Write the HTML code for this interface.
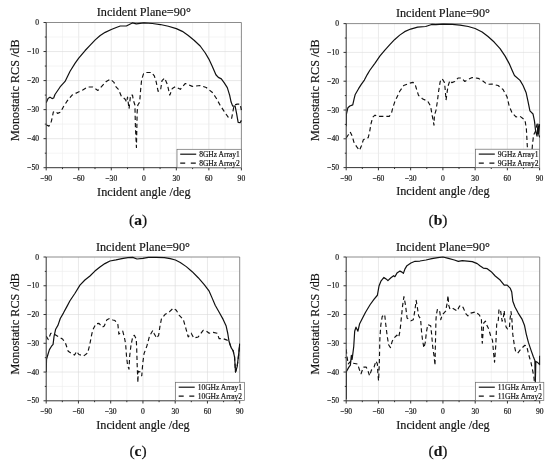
<!DOCTYPE html>
<html lang="en"><head><meta charset="utf-8"><title>Monostatic RCS</title>
<style>html,body{margin:0;padding:0;background:#fff}body{width:550px;height:464px;overflow:hidden}</style>
</head><body>
<svg width="550" height="464" viewBox="0 0 550 464" style="display:block">
<rect width="550" height="464" fill="#fff"/>
<g font-family="'Liberation Serif', 'Times New Roman', serif" fill="#141414" stroke="#141414" stroke-width="0.18">
<g id="plot-a">
<line x1="62.47" y1="22.5" x2="62.47" y2="167.7" stroke="#ececec" stroke-width="0.6"/><line x1="78.73" y1="22.5" x2="78.73" y2="167.7" stroke="#dadada" stroke-width="0.6"/><line x1="95.00" y1="22.5" x2="95.00" y2="167.7" stroke="#ececec" stroke-width="0.6"/><line x1="111.27" y1="22.5" x2="111.27" y2="167.7" stroke="#dadada" stroke-width="0.6"/><line x1="127.53" y1="22.5" x2="127.53" y2="167.7" stroke="#ececec" stroke-width="0.6"/><line x1="143.80" y1="22.5" x2="143.80" y2="167.7" stroke="#dadada" stroke-width="0.6"/><line x1="160.07" y1="22.5" x2="160.07" y2="167.7" stroke="#ececec" stroke-width="0.6"/><line x1="176.33" y1="22.5" x2="176.33" y2="167.7" stroke="#dadada" stroke-width="0.6"/><line x1="192.60" y1="22.5" x2="192.60" y2="167.7" stroke="#ececec" stroke-width="0.6"/><line x1="208.87" y1="22.5" x2="208.87" y2="167.7" stroke="#dadada" stroke-width="0.6"/><line x1="225.13" y1="22.5" x2="225.13" y2="167.7" stroke="#ececec" stroke-width="0.6"/><line x1="46.2" y1="153.18" x2="241.4" y2="153.18" stroke="#ececec" stroke-width="0.6"/><line x1="46.2" y1="138.66" x2="241.4" y2="138.66" stroke="#dadada" stroke-width="0.6"/><line x1="46.2" y1="124.14" x2="241.4" y2="124.14" stroke="#ececec" stroke-width="0.6"/><line x1="46.2" y1="109.62" x2="241.4" y2="109.62" stroke="#dadada" stroke-width="0.6"/><line x1="46.2" y1="95.10" x2="241.4" y2="95.10" stroke="#ececec" stroke-width="0.6"/><line x1="46.2" y1="80.58" x2="241.4" y2="80.58" stroke="#dadada" stroke-width="0.6"/><line x1="46.2" y1="66.06" x2="241.4" y2="66.06" stroke="#ececec" stroke-width="0.6"/><line x1="46.2" y1="51.54" x2="241.4" y2="51.54" stroke="#dadada" stroke-width="0.6"/><line x1="46.2" y1="37.02" x2="241.4" y2="37.02" stroke="#ececec" stroke-width="0.6"/>
<path d="M46.2 22.5H241.4V167.7" fill="none" stroke="#6e6e6e" stroke-width="0.8"/>
<clipPath id="clip-a"><rect x="46.2" y="21.5" width="195.80" height="146.20"/></clipPath>
<polyline clip-path="url(#clip-a)" points="46.20,124.72 48.91,126.17 51.41,121.24 53.36,111.94 55.63,111.36 57.59,113.40 60.51,112.23 63.44,106.72 67.24,100.91 72.12,95.10 77.43,92.49 82.42,90.16 87.95,86.97 92.94,86.97 97.93,90.45 101.94,86.10 106.28,81.45 110.18,79.13 113.98,82.32 115.60,86.39 118.42,89.29 121.35,96.26 125.15,99.17 126.67,102.07 127.53,97.13 129.05,108.75 130.57,95.10 132.52,95.10 133.28,100.04 134.91,104.97 135.45,128.21 136.43,147.37 137.18,111.65 137.84,104.97 139.68,102.07 140.66,89.29 141.63,79.71 143.58,73.61 146.51,72.45 151.39,72.45 154.32,75.93 156.16,81.74 158.11,91.32 160.50,90.45 162.02,80.58 164.62,77.97 167.33,84.36 169.83,95.10 172.32,88.42 175.25,86.68 180.35,89.29 185.33,83.48 192.27,86.39 200.19,85.52 206.26,87.55 212.12,92.20 216.13,98.00 220.14,105.26 224.16,111.36 228.17,117.17 231.64,118.33 233.16,110.20 234.13,105.26 237.06,104.10 240.10,104.10 241.40,110.20" fill="none" stroke="#111" stroke-width="1.15" stroke-dasharray="4.3 3" stroke-linejoin="round"/>
<polyline clip-path="url(#clip-a)" points="46.20,102.65 48.04,98.58 50.00,97.13 52.06,98.58 53.68,98.00 54.98,94.52 60.08,86.97 65.07,81.45 70.06,71.29 75.15,63.16 78.73,58.22 85.13,50.52 90.23,45.15 95.22,39.92 100.21,35.57 105.19,32.37 111.27,29.47 116.26,27.44 120.27,25.98 126.34,25.98 132.30,22.91 136.32,23.95 143.80,22.91 152.37,23.52 160.39,24.53 168.31,26.28 176.33,28.60 182.30,31.36 188.26,35.57 194.34,40.50 200.19,46.02 205.29,52.99 208.87,59.09 212.12,66.06 215.92,74.77 218.30,77.39 221.34,78.84 224.27,82.90 227.30,87.55 229.69,95.39 231.10,102.07 232.72,106.14 235.11,106.14 236.52,113.10 238.15,122.40 240.10,122.69 241.40,120.36" fill="none" stroke="#111" stroke-width="1.2" stroke-linejoin="round"/>
<path d="M46.2 22.5V167.7H241.4M46.20 167.7v2.7M62.47 167.7v1.4M78.73 167.7v2.7M95.00 167.7v1.4M111.27 167.7v2.7M127.53 167.7v1.4M143.80 167.7v2.7M160.07 167.7v1.4M176.33 167.7v2.7M192.60 167.7v1.4M208.87 167.7v2.7M225.13 167.7v1.4M241.40 167.7v2.7M46.2 167.70h-2.7M46.2 153.18h-1.4M46.2 138.66h-2.7M46.2 124.14h-1.4M46.2 109.62h-2.7M46.2 95.10h-1.4M46.2 80.58h-2.7M46.2 66.06h-1.4M46.2 51.54h-2.7M46.2 37.02h-1.4M46.2 22.50h-2.7" fill="none" stroke="#2a2a2a" stroke-width="0.95"/>
<text x="46.20" y="181.00" font-size="7.6" text-anchor="middle">−90</text>
<text x="78.73" y="181.00" font-size="7.6" text-anchor="middle">−60</text>
<text x="111.27" y="181.00" font-size="7.6" text-anchor="middle">−30</text>
<text x="143.80" y="181.00" font-size="7.6" text-anchor="middle">0</text>
<text x="176.33" y="181.00" font-size="7.6" text-anchor="middle">30</text>
<text x="208.87" y="181.00" font-size="7.6" text-anchor="middle">60</text>
<text x="241.40" y="181.00" font-size="7.6" text-anchor="middle">90</text>
<text x="39.00" y="170.30" font-size="7.6" text-anchor="end">−50</text>
<text x="39.00" y="141.26" font-size="7.6" text-anchor="end">−40</text>
<text x="39.00" y="112.22" font-size="7.6" text-anchor="end">−30</text>
<text x="39.00" y="83.18" font-size="7.6" text-anchor="end">−20</text>
<text x="39.00" y="54.14" font-size="7.6" text-anchor="end">−10</text>
<text x="39.00" y="25.10" font-size="7.6" text-anchor="end">0</text>
<rect x="177.0" y="149.3" width="64.40" height="18.40" fill="#fff" stroke="#6a6a6a" stroke-width="0.7"/>
<line x1="180.20" y1="154.20" x2="196.20" y2="154.20" stroke="#111" stroke-width="1.2"/>
<line x1="180.20" y1="163.20" x2="196.20" y2="163.20" stroke="#111" stroke-width="1.2" stroke-dasharray="5 5.6"/>
<text x="199.20" y="156.70" font-size="7.5">8GHz Array1</text>
<text x="199.20" y="165.70" font-size="7.5">8GHz Array2</text>
<text x="143.80" y="16.2" font-size="12.2" text-anchor="middle">Incident Plane=90°</text>
<text x="143.80" y="195.6" font-size="12.2" text-anchor="middle">Incident angle /deg</text>
<text transform="translate(18.60 90.20) rotate(-90)" font-size="12.2" text-anchor="middle">Monostatic RCS /dB</text>
<text x="138" y="224.6" font-size="15.5" text-anchor="middle">(<tspan font-weight="bold">a</tspan>)</text>
</g>
<g id="plot-b">
<line x1="362.32" y1="23.6" x2="362.32" y2="167.6" stroke="#ececec" stroke-width="0.6"/><line x1="378.43" y1="23.6" x2="378.43" y2="167.6" stroke="#dadada" stroke-width="0.6"/><line x1="394.55" y1="23.6" x2="394.55" y2="167.6" stroke="#ececec" stroke-width="0.6"/><line x1="410.67" y1="23.6" x2="410.67" y2="167.6" stroke="#dadada" stroke-width="0.6"/><line x1="426.78" y1="23.6" x2="426.78" y2="167.6" stroke="#ececec" stroke-width="0.6"/><line x1="442.90" y1="23.6" x2="442.90" y2="167.6" stroke="#dadada" stroke-width="0.6"/><line x1="459.02" y1="23.6" x2="459.02" y2="167.6" stroke="#ececec" stroke-width="0.6"/><line x1="475.13" y1="23.6" x2="475.13" y2="167.6" stroke="#dadada" stroke-width="0.6"/><line x1="491.25" y1="23.6" x2="491.25" y2="167.6" stroke="#ececec" stroke-width="0.6"/><line x1="507.37" y1="23.6" x2="507.37" y2="167.6" stroke="#dadada" stroke-width="0.6"/><line x1="523.48" y1="23.6" x2="523.48" y2="167.6" stroke="#ececec" stroke-width="0.6"/><line x1="346.2" y1="153.20" x2="539.6" y2="153.20" stroke="#ececec" stroke-width="0.6"/><line x1="346.2" y1="138.80" x2="539.6" y2="138.80" stroke="#dadada" stroke-width="0.6"/><line x1="346.2" y1="124.40" x2="539.6" y2="124.40" stroke="#ececec" stroke-width="0.6"/><line x1="346.2" y1="110.00" x2="539.6" y2="110.00" stroke="#dadada" stroke-width="0.6"/><line x1="346.2" y1="95.60" x2="539.6" y2="95.60" stroke="#ececec" stroke-width="0.6"/><line x1="346.2" y1="81.20" x2="539.6" y2="81.20" stroke="#dadada" stroke-width="0.6"/><line x1="346.2" y1="66.80" x2="539.6" y2="66.80" stroke="#ececec" stroke-width="0.6"/><line x1="346.2" y1="52.40" x2="539.6" y2="52.40" stroke="#dadada" stroke-width="0.6"/><line x1="346.2" y1="38.00" x2="539.6" y2="38.00" stroke="#ececec" stroke-width="0.6"/>
<path d="M346.2 23.6H539.6V167.6" fill="none" stroke="#6e6e6e" stroke-width="0.8"/>
<clipPath id="clip-b"><rect x="346.2" y="22.6" width="194.00" height="145.00"/></clipPath>
<polyline clip-path="url(#clip-b)" points="346.20,137.94 348.35,134.77 350.18,131.89 352.11,135.92 354.04,142.54 356.62,146.58 359.52,150.32 361.46,145.71 363.39,139.66 368.23,137.65 369.62,131.89 371.13,123.25 372.74,117.20 375.00,115.18 377.90,116.34 389.29,116.34 391.54,112.88 392.83,107.70 394.76,101.94 399.71,91.28 403.68,85.52 408.63,83.50 412.82,82.35 414.96,83.79 416.58,89.26 418.51,95.31 422.81,99.06 427.64,101.07 430.54,105.97 432.05,114.61 433.98,125.26 434.41,115.47 435.92,110.58 437.31,101.94 438.60,91.28 440.21,81.49 442.15,78.61 444.51,82.64 445.37,91.28 446.02,100.21 446.98,93.30 447.95,86.38 449.88,80.62 451.82,82.64 454.72,81.49 458.05,78.03 461.49,78.03 464.82,81.49 468.26,79.47 472.23,77.46 478.14,78.32 482.12,80.34 487.17,84.37 492.11,84.08 498.13,85.52 503.07,89.55 507.04,96.75 509.09,105.68 512.09,112.88 515.96,116.91 520.05,116.34 524.99,120.08 526.38,129.01 527.24,145.14 528.32,158.96 531.54,158.96 532.40,145.14 533.58,135.06 535.62,131.02 537.02,124.11 538.31,133.04 539.60,137.36" fill="none" stroke="#111" stroke-width="1.15" stroke-dasharray="4.3 3" stroke-linejoin="round"/>
<polyline clip-path="url(#clip-b)" points="346.20,126.13 346.31,114.61 347.92,107.70 349.85,105.97 352.75,104.82 354.04,99.06 355.23,94.45 358.56,88.69 361.46,84.08 364.36,80.05 367.26,74.58 369.84,70.26 374.89,63.34 379.83,56.14 384.88,50.10 389.82,44.62 394.76,39.44 399.71,35.12 404.65,31.66 410.67,29.07 417.65,27.06 425.71,26.48 431.62,24.46 435.92,24.61 442.90,24.03 452.25,24.46 460.09,25.04 468.26,26.48 475.13,28.50 482.12,31.95 488.03,36.56 494.15,42.03 500.06,48.66 505.11,56.14 509.09,63.34 512.09,70.26 514.46,75.44 520.05,80.34 523.05,85.52 526.06,92.43 528.00,101.36 529.93,110.86 533.05,114.03 534.44,120.94 535.62,131.02 537.02,136.21 537.99,124.11 538.53,134.19 539.60,124.11" fill="none" stroke="#111" stroke-width="1.2" stroke-linejoin="round"/>
<path d="M346.2 23.6V167.6H539.6M346.20 167.6v2.7M362.32 167.6v1.4M378.43 167.6v2.7M394.55 167.6v1.4M410.67 167.6v2.7M426.78 167.6v1.4M442.90 167.6v2.7M459.02 167.6v1.4M475.13 167.6v2.7M491.25 167.6v1.4M507.37 167.6v2.7M523.48 167.6v1.4M539.60 167.6v2.7M346.2 167.60h-2.7M346.2 153.20h-1.4M346.2 138.80h-2.7M346.2 124.40h-1.4M346.2 110.00h-2.7M346.2 95.60h-1.4M346.2 81.20h-2.7M346.2 66.80h-1.4M346.2 52.40h-2.7M346.2 38.00h-1.4M346.2 23.60h-2.7" fill="none" stroke="#2a2a2a" stroke-width="0.95"/>
<text x="346.20" y="180.90" font-size="7.6" text-anchor="middle">−90</text>
<text x="378.43" y="180.90" font-size="7.6" text-anchor="middle">−60</text>
<text x="410.67" y="180.90" font-size="7.6" text-anchor="middle">−30</text>
<text x="442.90" y="180.90" font-size="7.6" text-anchor="middle">0</text>
<text x="475.13" y="180.90" font-size="7.6" text-anchor="middle">30</text>
<text x="507.37" y="180.90" font-size="7.6" text-anchor="middle">60</text>
<text x="539.60" y="180.90" font-size="7.6" text-anchor="middle">90</text>
<text x="339.00" y="170.20" font-size="7.6" text-anchor="end">−50</text>
<text x="339.00" y="141.40" font-size="7.6" text-anchor="end">−40</text>
<text x="339.00" y="112.60" font-size="7.6" text-anchor="end">−30</text>
<text x="339.00" y="83.80" font-size="7.6" text-anchor="end">−20</text>
<text x="339.00" y="55.00" font-size="7.6" text-anchor="end">−10</text>
<text x="339.00" y="26.20" font-size="7.6" text-anchor="end">0</text>
<rect x="475.6" y="149.2" width="64.00" height="18.40" fill="#fff" stroke="#6a6a6a" stroke-width="0.7"/>
<line x1="478.80" y1="154.10" x2="494.80" y2="154.10" stroke="#111" stroke-width="1.2"/>
<line x1="478.80" y1="163.10" x2="494.80" y2="163.10" stroke="#111" stroke-width="1.2" stroke-dasharray="5 5.6"/>
<text x="497.80" y="156.60" font-size="7.5">9GHz Array1</text>
<text x="497.80" y="165.60" font-size="7.5">9GHz Array2</text>
<text x="442.90" y="17.2" font-size="12.2" text-anchor="middle">Incident Plane=90°</text>
<text x="442.90" y="195.2" font-size="12.2" text-anchor="middle">Incident angle /deg</text>
<text transform="translate(318.60 90.20) rotate(-90)" font-size="12.2" text-anchor="middle">Monostatic RCS /dB</text>
<text x="438" y="224.6" font-size="15.5" text-anchor="middle">(<tspan font-weight="bold">b</tspan>)</text>
</g>
<g id="plot-c">
<line x1="62.33" y1="257.0" x2="62.33" y2="400.8" stroke="#ececec" stroke-width="0.6"/><line x1="78.45" y1="257.0" x2="78.45" y2="400.8" stroke="#dadada" stroke-width="0.6"/><line x1="94.58" y1="257.0" x2="94.58" y2="400.8" stroke="#ececec" stroke-width="0.6"/><line x1="110.70" y1="257.0" x2="110.70" y2="400.8" stroke="#dadada" stroke-width="0.6"/><line x1="126.83" y1="257.0" x2="126.83" y2="400.8" stroke="#ececec" stroke-width="0.6"/><line x1="142.95" y1="257.0" x2="142.95" y2="400.8" stroke="#dadada" stroke-width="0.6"/><line x1="159.08" y1="257.0" x2="159.08" y2="400.8" stroke="#ececec" stroke-width="0.6"/><line x1="175.20" y1="257.0" x2="175.20" y2="400.8" stroke="#dadada" stroke-width="0.6"/><line x1="191.32" y1="257.0" x2="191.32" y2="400.8" stroke="#ececec" stroke-width="0.6"/><line x1="207.45" y1="257.0" x2="207.45" y2="400.8" stroke="#dadada" stroke-width="0.6"/><line x1="223.57" y1="257.0" x2="223.57" y2="400.8" stroke="#ececec" stroke-width="0.6"/><line x1="46.2" y1="386.42" x2="239.7" y2="386.42" stroke="#ececec" stroke-width="0.6"/><line x1="46.2" y1="372.04" x2="239.7" y2="372.04" stroke="#dadada" stroke-width="0.6"/><line x1="46.2" y1="357.66" x2="239.7" y2="357.66" stroke="#ececec" stroke-width="0.6"/><line x1="46.2" y1="343.28" x2="239.7" y2="343.28" stroke="#dadada" stroke-width="0.6"/><line x1="46.2" y1="328.90" x2="239.7" y2="328.90" stroke="#ececec" stroke-width="0.6"/><line x1="46.2" y1="314.52" x2="239.7" y2="314.52" stroke="#dadada" stroke-width="0.6"/><line x1="46.2" y1="300.14" x2="239.7" y2="300.14" stroke="#ececec" stroke-width="0.6"/><line x1="46.2" y1="285.76" x2="239.7" y2="285.76" stroke="#dadada" stroke-width="0.6"/><line x1="46.2" y1="271.38" x2="239.7" y2="271.38" stroke="#ececec" stroke-width="0.6"/>
<path d="M46.2 257.0H239.7V400.8" fill="none" stroke="#6e6e6e" stroke-width="0.8"/>
<clipPath id="clip-c"><rect x="46.2" y="256.0" width="194.10" height="144.80"/></clipPath>
<polyline clip-path="url(#clip-c)" points="46.20,336.09 48.24,339.54 50.82,333.21 53.73,333.79 58.56,336.67 62.43,338.97 65.34,342.70 68.24,351.33 71.14,353.06 74.58,355.07 76.62,351.33 78.88,354.50 83.72,355.93 87.59,353.06 89.63,345.29 91.67,334.65 92.86,329.76 95.97,323.72 98.98,323.44 102.32,327.17 104.25,326.02 106.94,319.70 109.62,318.55 112.96,319.98 115.00,320.56 117.90,324.59 118.87,334.08 122.74,331.20 124.35,337.24 125.64,343.86 126.61,357.37 127.58,365.14 128.97,369.16 129.73,355.65 130.91,345.87 132.84,336.09 134.35,335.23 136.28,338.97 136.72,349.61 137.25,367.15 137.90,382.68 138.22,371.18 140.16,372.04 141.77,375.78 142.74,363.41 144.03,353.63 146.93,345.87 149.51,336.09 152.84,330.34 154.34,334.08 156.71,338.10 158.65,335.23 159.94,326.31 161.44,318.83 165.31,314.23 169.29,311.93 173.27,308.19 176.28,310.21 179.28,315.38 183.26,319.41 185.84,328.32 188.21,336.95 191.22,333.21 193.80,338.10 198.20,336.95 203.15,330.34 206.16,330.91 209.17,333.21 213.15,332.35 217.12,333.21 219.17,338.68 223.14,338.68 227.12,340.12 229.06,341.55 231.10,347.59 233.14,350.76 234.54,356.80 235.51,372.04 237.12,366.86 238.52,355.65 239.49,346.73 239.70,347.59" fill="none" stroke="#111" stroke-width="1.15" stroke-dasharray="4.3 3" stroke-linejoin="round"/>
<polyline clip-path="url(#clip-c)" points="46.20,372.04 46.52,359.39 47.92,354.50 49.43,349.61 51.36,346.44 53.08,344.43 54.05,336.38 55.66,329.19 58.03,325.16 60.28,318.55 63.40,313.08 67.27,305.89 69.96,300.72 75.01,293.24 79.95,285.18 84.90,280.01 89.95,275.98 94.90,271.09 99.95,267.07 104.90,263.61 109.95,261.03 115.97,259.88 121.88,258.58 127.90,257.58 132.74,257.43 136.93,259.01 142.95,258.44 148.32,257.43 156.28,257.29 164.34,257.58 170.26,258.58 175.42,260.02 180.25,262.46 186.27,266.63 192.19,271.67 198.20,277.71 204.23,284.61 209.17,291.22 212.18,298.13 215.19,305.32 219.17,312.22 223.14,319.41 226.16,326.02 227.77,333.50 229.06,341.55 231.10,347.59 233.14,350.76 234.54,356.80 235.51,372.04 237.12,366.86 238.52,355.65 239.70,343.57" fill="none" stroke="#111" stroke-width="1.2" stroke-linejoin="round"/>
<path d="M46.2 257.0V400.8H239.7M46.20 400.8v2.7M62.33 400.8v1.4M78.45 400.8v2.7M94.58 400.8v1.4M110.70 400.8v2.7M126.83 400.8v1.4M142.95 400.8v2.7M159.08 400.8v1.4M175.20 400.8v2.7M191.32 400.8v1.4M207.45 400.8v2.7M223.57 400.8v1.4M239.70 400.8v2.7M46.2 400.80h-2.7M46.2 386.42h-1.4M46.2 372.04h-2.7M46.2 357.66h-1.4M46.2 343.28h-2.7M46.2 328.90h-1.4M46.2 314.52h-2.7M46.2 300.14h-1.4M46.2 285.76h-2.7M46.2 271.38h-1.4M46.2 257.00h-2.7" fill="none" stroke="#2a2a2a" stroke-width="0.95"/>
<text x="46.20" y="414.10" font-size="7.6" text-anchor="middle">−90</text>
<text x="78.45" y="414.10" font-size="7.6" text-anchor="middle">−60</text>
<text x="110.70" y="414.10" font-size="7.6" text-anchor="middle">−30</text>
<text x="142.95" y="414.10" font-size="7.6" text-anchor="middle">0</text>
<text x="175.20" y="414.10" font-size="7.6" text-anchor="middle">30</text>
<text x="207.45" y="414.10" font-size="7.6" text-anchor="middle">60</text>
<text x="239.70" y="414.10" font-size="7.6" text-anchor="middle">90</text>
<text x="39.00" y="403.40" font-size="7.6" text-anchor="end">−50</text>
<text x="39.00" y="374.64" font-size="7.6" text-anchor="end">−40</text>
<text x="39.00" y="345.88" font-size="7.6" text-anchor="end">−30</text>
<text x="39.00" y="317.12" font-size="7.6" text-anchor="end">−20</text>
<text x="39.00" y="288.36" font-size="7.6" text-anchor="end">−10</text>
<text x="39.00" y="259.60" font-size="7.6" text-anchor="end">0</text>
<rect x="175.5" y="382.3" width="69.10" height="18.30" fill="#fff" stroke="#6a6a6a" stroke-width="0.7"/>
<line x1="178.70" y1="387.20" x2="194.70" y2="387.20" stroke="#111" stroke-width="1.2"/>
<line x1="178.70" y1="396.20" x2="194.70" y2="396.20" stroke="#111" stroke-width="1.2" stroke-dasharray="5 5.6"/>
<text x="197.70" y="389.70" font-size="7.5">10GHz Array1</text>
<text x="197.70" y="398.70" font-size="7.5">10GHz Array2</text>
<text x="142.95" y="250.7" font-size="12.2" text-anchor="middle">Incident Plane=90°</text>
<text x="142.95" y="429.0" font-size="12.2" text-anchor="middle">Incident angle /deg</text>
<text transform="translate(18.60 323.80) rotate(-90)" font-size="12.2" text-anchor="middle">Monostatic RCS /dB</text>
<text x="138" y="455.9" font-size="15.5" text-anchor="middle">(<tspan font-weight="bold">c</tspan>)</text>
</g>
<g id="plot-d">
<line x1="362.32" y1="257.0" x2="362.32" y2="400.8" stroke="#ececec" stroke-width="0.6"/><line x1="378.45" y1="257.0" x2="378.45" y2="400.8" stroke="#dadada" stroke-width="0.6"/><line x1="394.57" y1="257.0" x2="394.57" y2="400.8" stroke="#ececec" stroke-width="0.6"/><line x1="410.70" y1="257.0" x2="410.70" y2="400.8" stroke="#dadada" stroke-width="0.6"/><line x1="426.83" y1="257.0" x2="426.83" y2="400.8" stroke="#ececec" stroke-width="0.6"/><line x1="442.95" y1="257.0" x2="442.95" y2="400.8" stroke="#dadada" stroke-width="0.6"/><line x1="459.08" y1="257.0" x2="459.08" y2="400.8" stroke="#ececec" stroke-width="0.6"/><line x1="475.20" y1="257.0" x2="475.20" y2="400.8" stroke="#dadada" stroke-width="0.6"/><line x1="491.33" y1="257.0" x2="491.33" y2="400.8" stroke="#ececec" stroke-width="0.6"/><line x1="507.45" y1="257.0" x2="507.45" y2="400.8" stroke="#dadada" stroke-width="0.6"/><line x1="523.58" y1="257.0" x2="523.58" y2="400.8" stroke="#ececec" stroke-width="0.6"/><line x1="346.2" y1="386.42" x2="539.7" y2="386.42" stroke="#ececec" stroke-width="0.6"/><line x1="346.2" y1="372.04" x2="539.7" y2="372.04" stroke="#dadada" stroke-width="0.6"/><line x1="346.2" y1="357.66" x2="539.7" y2="357.66" stroke="#ececec" stroke-width="0.6"/><line x1="346.2" y1="343.28" x2="539.7" y2="343.28" stroke="#dadada" stroke-width="0.6"/><line x1="346.2" y1="328.90" x2="539.7" y2="328.90" stroke="#ececec" stroke-width="0.6"/><line x1="346.2" y1="314.52" x2="539.7" y2="314.52" stroke="#dadada" stroke-width="0.6"/><line x1="346.2" y1="300.14" x2="539.7" y2="300.14" stroke="#ececec" stroke-width="0.6"/><line x1="346.2" y1="285.76" x2="539.7" y2="285.76" stroke="#dadada" stroke-width="0.6"/><line x1="346.2" y1="271.38" x2="539.7" y2="271.38" stroke="#ececec" stroke-width="0.6"/>
<path d="M346.2 257.0H539.7V400.8" fill="none" stroke="#6e6e6e" stroke-width="0.8"/>
<clipPath id="clip-d"><rect x="346.2" y="256.0" width="194.10" height="144.80"/></clipPath>
<polyline clip-path="url(#clip-d)" points="346.20,349.32 346.95,356.22 348.24,363.99 350.82,361.11 352.76,363.12 357.59,363.99 359.53,370.03 361.03,373.77 363.40,367.15 366.30,367.15 368.24,371.75 369.63,375.78 371.46,370.03 374.04,367.15 375.98,361.11 377.38,363.99 377.91,373.77 378.56,380.67 379.31,363.99 379.85,338.97 380.81,325.16 382.21,316.53 384.69,314.52 385.65,323.44 387.05,334.94 388.56,344.72 390.49,347.59 392.10,341.55 393.93,338.10 396.83,335.23 398.66,337.24 400.06,330.63 401.24,318.83 402.64,305.32 403.93,296.69 405.54,305.32 407.05,317.97 410.92,320.85 413.28,319.70 414.79,311.07 416.18,300.43 417.47,308.19 418.66,315.96 420.59,318.83 421.45,330.63 422.52,340.12 423.92,347.88 425.32,342.13 426.39,332.35 427.79,324.59 430.69,325.74 431.66,334.36 432.63,346.16 434.24,357.66 435.00,365.43 435.43,343.28 435.96,320.27 436.29,315.10 437.47,309.06 439.83,311.93 440.80,319.70 442.09,315.10 445.64,311.07 447.14,303.30 448.00,295.54 448.75,305.32 449.94,309.06 452.41,308.19 457.25,311.07 458.86,307.33 460.15,305.32 463.05,307.33 465.96,313.94 467.89,315.96 470.79,313.08 475.63,311.93 479.50,315.10 481.44,319.70 481.87,336.67 482.30,343.28 483.05,332.64 483.80,322.86 485.41,321.13 486.70,324.87 488.64,328.90 490.57,335.51 492.51,340.40 493.48,352.20 494.55,362.26 495.84,344.43 496.38,330.91 496.81,322.00 498.31,320.27 498.96,309.34 500.36,309.34 501.32,315.38 502.08,321.13 503.15,319.12 504.23,310.49 504.76,319.12 506.05,326.89 507.45,328.90 509.39,328.32 510.03,319.12 511.00,311.64 511.86,319.12 512.83,334.65 514.44,346.16 515.84,352.20 517.77,353.06 520.89,349.03 524.87,345.29 526.69,346.16 528.74,354.78 530.99,362.55 532.61,370.31 533.89,376.93 534.54,382.97 535.40,395.05" fill="none" stroke="#111" stroke-width="1.15" stroke-dasharray="4.3 3" stroke-linejoin="round"/>
<polyline clip-path="url(#clip-d)" points="346.20,399.07 346.31,371.75 348.89,367.15 350.39,365.14 351.36,355.36 352.11,359.39 353.72,346.73 354.69,331.20 355.98,327.17 357.92,331.20 359.64,323.72 362.32,318.55 365.55,312.22 370.06,304.74 373.94,299.28 377.38,295.25 378.99,286.05 380.92,281.16 383.93,277.42 386.40,279.15 387.91,280.58 390.92,277.71 393.61,275.69 394.90,276.70 396.94,273.11 399.95,271.09 401.99,272.10 403.39,273.39 404.89,269.08 406.94,265.63 410.92,263.04 415.00,261.31 419.94,261.03 425.97,260.02 431.88,258.58 437.90,257.58 442.95,257.00 448.33,258.44 454.35,260.02 458.32,261.31 462.30,260.60 467.25,261.03 472.30,261.60 477.24,263.61 480.25,266.06 483.26,268.07 487.24,268.65 491.22,271.67 495.20,275.98 500.14,280.01 504.23,285.18 507.13,285.18 510.14,288.06 511.75,292.09 512.83,301.29 514.98,307.04 518.20,313.08 521.86,318.83 524.44,325.16 526.26,334.08 528.41,342.42 530.99,350.18 533.25,356.51 534.86,360.54 535.29,383.54 535.83,361.40 537.77,362.55 539.70,364.56 539.70,355.65" fill="none" stroke="#111" stroke-width="1.2" stroke-linejoin="round"/>
<path d="M346.2 257.0V400.8H539.7M346.20 400.8v2.7M362.32 400.8v1.4M378.45 400.8v2.7M394.57 400.8v1.4M410.70 400.8v2.7M426.83 400.8v1.4M442.95 400.8v2.7M459.08 400.8v1.4M475.20 400.8v2.7M491.33 400.8v1.4M507.45 400.8v2.7M523.58 400.8v1.4M539.70 400.8v2.7M346.2 400.80h-2.7M346.2 386.42h-1.4M346.2 372.04h-2.7M346.2 357.66h-1.4M346.2 343.28h-2.7M346.2 328.90h-1.4M346.2 314.52h-2.7M346.2 300.14h-1.4M346.2 285.76h-2.7M346.2 271.38h-1.4M346.2 257.00h-2.7" fill="none" stroke="#2a2a2a" stroke-width="0.95"/>
<text x="346.20" y="414.10" font-size="7.6" text-anchor="middle">−90</text>
<text x="378.45" y="414.10" font-size="7.6" text-anchor="middle">−60</text>
<text x="410.70" y="414.10" font-size="7.6" text-anchor="middle">−30</text>
<text x="442.95" y="414.10" font-size="7.6" text-anchor="middle">0</text>
<text x="475.20" y="414.10" font-size="7.6" text-anchor="middle">30</text>
<text x="507.45" y="414.10" font-size="7.6" text-anchor="middle">60</text>
<text x="539.70" y="414.10" font-size="7.6" text-anchor="middle">90</text>
<text x="339.00" y="403.40" font-size="7.6" text-anchor="end">−50</text>
<text x="339.00" y="374.64" font-size="7.6" text-anchor="end">−40</text>
<text x="339.00" y="345.88" font-size="7.6" text-anchor="end">−30</text>
<text x="339.00" y="317.12" font-size="7.6" text-anchor="end">−20</text>
<text x="339.00" y="288.36" font-size="7.6" text-anchor="end">−10</text>
<text x="339.00" y="259.60" font-size="7.6" text-anchor="end">0</text>
<rect x="475.6" y="382.3" width="68.20" height="18.30" fill="#fff" stroke="#6a6a6a" stroke-width="0.7"/>
<line x1="478.80" y1="387.20" x2="494.80" y2="387.20" stroke="#111" stroke-width="1.2"/>
<line x1="478.80" y1="396.20" x2="494.80" y2="396.20" stroke="#111" stroke-width="1.2" stroke-dasharray="5 5.6"/>
<text x="497.80" y="389.70" font-size="7.5">11GHz Array1</text>
<text x="497.80" y="398.70" font-size="7.5">11GHz Array2</text>
<text x="442.95" y="250.7" font-size="12.2" text-anchor="middle">Incident Plane=90°</text>
<text x="442.95" y="429.0" font-size="12.2" text-anchor="middle">Incident angle /deg</text>
<text transform="translate(318.60 323.80) rotate(-90)" font-size="12.2" text-anchor="middle">Monostatic RCS /dB</text>
<text x="438" y="455.9" font-size="15.5" text-anchor="middle">(<tspan font-weight="bold">d</tspan>)</text>
</g>
</g></svg>
</body></html>
